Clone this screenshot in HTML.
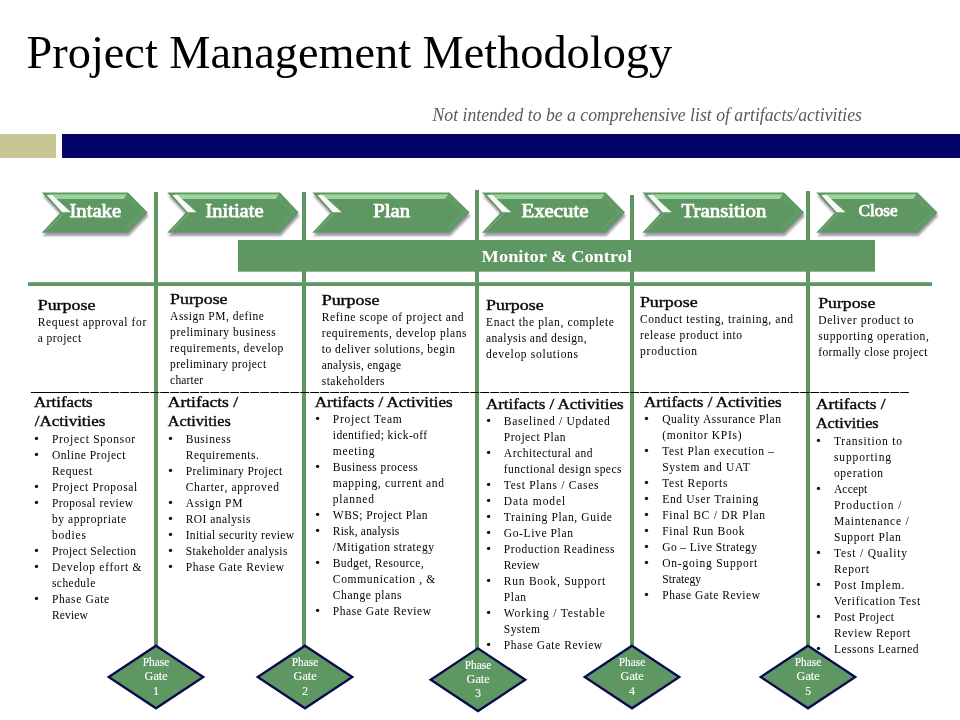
<!DOCTYPE html>
<html><head><meta charset="utf-8"><title>Project Management Methodology</title>
<style>
html,body{margin:0;padding:0;background:#fff;width:960px;height:720px;overflow:hidden}
svg{display:block;will-change:transform;font-family:"Liberation Serif",serif}
</style></head><body>
<svg width="960" height="720" viewBox="0 0 960 720">
<defs><filter id="blur" x="-10%" y="-30%" width="120%" height="160%"><feGaussianBlur stdDeviation="1.0"/></filter></defs>
<rect width="960" height="720" fill="#fff"/>
<text x="26.6" y="67.5" font-size="46" textLength="645.5" lengthAdjust="spacingAndGlyphs">Project Management Methodology</text>
<text x="432.5" y="120.7" font-size="19" fill="#5a5a5a" textLength="429.5" lengthAdjust="spacingAndGlyphs" font-style="italic">Not intended to be a comprehensive list of  artifacts/activities</text>
<rect x="0" y="134" width="56" height="24" fill="#c9c696"/>
<rect x="62" y="134" width="898" height="24" fill="#030369"/>
<rect x="154" y="192" width="4" height="458" fill="#5f9762"/>
<rect x="302" y="192" width="4" height="458" fill="#5f9762"/>
<rect x="475" y="190" width="4" height="460" fill="#5f9762"/>
<rect x="630" y="195" width="4" height="455" fill="#5f9762"/>
<rect x="806" y="191" width="4" height="459" fill="#5f9762"/>
<rect x="28" y="282.2" width="904" height="3.8" fill="#5f9762"/>
<rect x="238" y="240" width="637" height="31.7" fill="#5f9762"/>
<text x="481.6" y="261.8" font-size="17.5" font-weight="bold" fill="#ffffff" textLength="150.5" lengthAdjust="spacingAndGlyphs">Monitor &amp; Control</text>
<g>
<polygon points="42.5,195.7 128.8,195.7 148.5,215.79999999999998 128.8,236.0 42.5,236.0 61.3,215.79999999999998" fill="#7a6d86" opacity="0.7" filter="url(#blur)"/>
<polygon points="41.7,192.5 128,192.5 147.7,212.6 128,232.8 41.7,232.8 60.5,212.6" fill="#5f9762"/>
<polygon points="48.7,194.3 126.8,194.3 123.8,199.1 53.7,199.1" fill="#a3dea4" opacity="0.85"/>
<polygon points="126.8,194.3 145.2,212.6 126.5,231.3 123.8,228.8 139.7,212.6 123.8,199.1" fill="#6aa56d" opacity="0.35"/>
<polygon points="46.7,195.1 52.2,195.1 71.0,212.29999999999998 62.1,212.29999999999998" fill="#ffffff" opacity="0.95"/>
<line x1="63.0" y1="213.79999999999998" x2="45.7" y2="231.20000000000002" stroke="#cfe8cf" stroke-width="0.8" opacity="0.45"/>
<text x="69.4" y="216.7" font-size="18" fill="#ffffff" textLength="51.8" lengthAdjust="spacingAndGlyphs" stroke="#ffffff" stroke-width="0.75">Intake</text>
<polygon points="168.0,195.7 280.8,195.7 299.5,215.79999999999998 280.8,236.0 168.0,236.0 186.8,215.79999999999998" fill="#7a6d86" opacity="0.7" filter="url(#blur)"/>
<polygon points="167.2,192.5 280,192.5 298.7,212.6 280,232.8 167.2,232.8 186.0,212.6" fill="#5f9762"/>
<polygon points="174.2,194.3 278.8,194.3 275.8,199.1 179.2,199.1" fill="#a3dea4" opacity="0.85"/>
<polygon points="278.8,194.3 296.2,212.6 278.5,231.3 275.8,228.8 290.7,212.6 275.8,199.1" fill="#6aa56d" opacity="0.35"/>
<polygon points="172.2,195.1 177.7,195.1 196.5,212.29999999999998 187.6,212.29999999999998" fill="#ffffff" opacity="0.95"/>
<line x1="188.5" y1="213.79999999999998" x2="171.2" y2="231.20000000000002" stroke="#cfe8cf" stroke-width="0.8" opacity="0.45"/>
<text x="205.5" y="216.7" font-size="18" fill="#ffffff" textLength="58.0" lengthAdjust="spacingAndGlyphs" stroke="#ffffff" stroke-width="0.75">Initiate</text>
<polygon points="313.1,195.7 450.2,195.7 470.40000000000003,215.79999999999998 450.2,236.0 313.1,236.0 331.90000000000003,215.79999999999998" fill="#7a6d86" opacity="0.7" filter="url(#blur)"/>
<polygon points="312.3,192.5 449.4,192.5 469.6,212.6 449.4,232.8 312.3,232.8 331.1,212.6" fill="#5f9762"/>
<polygon points="319.3,194.3 448.2,194.3 445.2,199.1 324.3,199.1" fill="#a3dea4" opacity="0.85"/>
<polygon points="448.2,194.3 467.1,212.6 447.9,231.3 445.2,228.8 461.6,212.6 445.2,199.1" fill="#6aa56d" opacity="0.35"/>
<polygon points="317.3,195.1 322.8,195.1 341.6,212.29999999999998 332.70000000000005,212.29999999999998" fill="#ffffff" opacity="0.95"/>
<line x1="333.6" y1="213.79999999999998" x2="316.3" y2="231.20000000000002" stroke="#cfe8cf" stroke-width="0.8" opacity="0.45"/>
<text x="373.3" y="216.7" font-size="18" fill="#ffffff" textLength="36.7" lengthAdjust="spacingAndGlyphs" stroke="#ffffff" stroke-width="0.75">Plan</text>
<polygon points="482.7,195.7 606.4,195.7 625.8,215.79999999999998 606.4,236.0 482.7,236.0 501.5,215.79999999999998" fill="#7a6d86" opacity="0.7" filter="url(#blur)"/>
<polygon points="481.9,192.5 605.6,192.5 625,212.6 605.6,232.8 481.9,232.8 500.7,212.6" fill="#5f9762"/>
<polygon points="488.9,194.3 604.4,194.3 601.4,199.1 493.9,199.1" fill="#a3dea4" opacity="0.85"/>
<polygon points="604.4,194.3 622.5,212.6 604.1,231.3 601.4,228.8 617,212.6 601.4,199.1" fill="#6aa56d" opacity="0.35"/>
<polygon points="486.9,195.1 492.4,195.1 511.2,212.29999999999998 502.3,212.29999999999998" fill="#ffffff" opacity="0.95"/>
<line x1="503.2" y1="213.79999999999998" x2="485.9" y2="231.20000000000002" stroke="#cfe8cf" stroke-width="0.8" opacity="0.45"/>
<text x="521.5" y="216.7" font-size="18" fill="#ffffff" textLength="67.0" lengthAdjust="spacingAndGlyphs" stroke="#ffffff" stroke-width="0.75">Execute</text>
<polygon points="643.0999999999999,195.7 784.8,195.7 805.0,215.79999999999998 784.8,236.0 643.0999999999999,236.0 661.8999999999999,215.79999999999998" fill="#7a6d86" opacity="0.7" filter="url(#blur)"/>
<polygon points="642.3,192.5 784,192.5 804.2,212.6 784,232.8 642.3,232.8 661.0999999999999,212.6" fill="#5f9762"/>
<polygon points="649.3,194.3 782.8,194.3 779.8,199.1 654.3,199.1" fill="#a3dea4" opacity="0.85"/>
<polygon points="782.8,194.3 801.7,212.6 782.5,231.3 779.8,228.8 796.2,212.6 779.8,199.1" fill="#6aa56d" opacity="0.35"/>
<polygon points="647.3,195.1 652.8,195.1 671.5999999999999,212.29999999999998 662.6999999999999,212.29999999999998" fill="#ffffff" opacity="0.95"/>
<line x1="663.5999999999999" y1="213.79999999999998" x2="646.3" y2="231.20000000000002" stroke="#cfe8cf" stroke-width="0.8" opacity="0.45"/>
<text x="681.6" y="216.7" font-size="18" fill="#ffffff" textLength="84.8" lengthAdjust="spacingAndGlyphs" stroke="#ffffff" stroke-width="0.75">Transition</text>
<polygon points="817.0,195.7 918.3,195.7 938.3,215.79999999999998 918.3,236.0 817.0,236.0 835.8,215.79999999999998" fill="#7a6d86" opacity="0.7" filter="url(#blur)"/>
<polygon points="816.2,192.5 917.5,192.5 937.5,212.6 917.5,232.8 816.2,232.8 835.0,212.6" fill="#5f9762"/>
<polygon points="823.2,194.3 916.3,194.3 913.3,199.1 828.2,199.1" fill="#a3dea4" opacity="0.85"/>
<polygon points="916.3,194.3 935.0,212.6 916.0,231.3 913.3,228.8 929.5,212.6 913.3,199.1" fill="#6aa56d" opacity="0.35"/>
<polygon points="821.2,195.1 826.7,195.1 845.5,212.29999999999998 836.6,212.29999999999998" fill="#ffffff" opacity="0.95"/>
<line x1="837.5" y1="213.79999999999998" x2="820.2" y2="231.20000000000002" stroke="#cfe8cf" stroke-width="0.8" opacity="0.45"/>
<text x="858.4" y="215.8" font-size="16" fill="#ffffff" textLength="39.3" lengthAdjust="spacingAndGlyphs" stroke="#ffffff" stroke-width="0.75">Close</text>
</g>
<polygon points="156,645.7 203.3,677 156,708.3 108.7,677" fill="#5f9762" stroke="#0a0a4c" stroke-width="2.3" stroke-linejoin="miter"/>
<text x="142.8" y="666.2" font-size="11.5" fill="#ffffff" textLength="26.5" lengthAdjust="spacingAndGlyphs" stroke="#ffffff" stroke-width="0.15">Phase</text>
<text x="144.6" y="680" font-size="11.5" fill="#ffffff" textLength="23" lengthAdjust="spacingAndGlyphs" stroke="#ffffff" stroke-width="0.15">Gate</text>
<text x="156" y="694.6" font-size="11.5" fill="#ffffff" stroke="#ffffff" stroke-width="0.15" text-anchor="middle">1</text>
<polygon points="305,645.7 352.3,677 305,708.3 257.7,677" fill="#5f9762" stroke="#0a0a4c" stroke-width="2.3" stroke-linejoin="miter"/>
<text x="291.8" y="666.2" font-size="11.5" fill="#ffffff" textLength="26.5" lengthAdjust="spacingAndGlyphs" stroke="#ffffff" stroke-width="0.15">Phase</text>
<text x="293.6" y="680" font-size="11.5" fill="#ffffff" textLength="23" lengthAdjust="spacingAndGlyphs" stroke="#ffffff" stroke-width="0.15">Gate</text>
<text x="305" y="694.6" font-size="11.5" fill="#ffffff" stroke="#ffffff" stroke-width="0.15" text-anchor="middle">2</text>
<polygon points="478,648.4000000000001 525.3,679.7 478,711.0 430.7,679.7" fill="#5f9762" stroke="#0a0a4c" stroke-width="2.3" stroke-linejoin="miter"/>
<text x="464.8" y="668.9" font-size="11.5" fill="#ffffff" textLength="26.5" lengthAdjust="spacingAndGlyphs" stroke="#ffffff" stroke-width="0.15">Phase</text>
<text x="466.6" y="682.7" font-size="11.5" fill="#ffffff" textLength="23" lengthAdjust="spacingAndGlyphs" stroke="#ffffff" stroke-width="0.15">Gate</text>
<text x="478" y="697.3" font-size="11.5" fill="#ffffff" stroke="#ffffff" stroke-width="0.15" text-anchor="middle">3</text>
<polygon points="632,645.7 679.3,677 632,708.3 584.7,677" fill="#5f9762" stroke="#0a0a4c" stroke-width="2.3" stroke-linejoin="miter"/>
<text x="618.8" y="666.2" font-size="11.5" fill="#ffffff" textLength="26.5" lengthAdjust="spacingAndGlyphs" stroke="#ffffff" stroke-width="0.15">Phase</text>
<text x="620.6" y="680" font-size="11.5" fill="#ffffff" textLength="23" lengthAdjust="spacingAndGlyphs" stroke="#ffffff" stroke-width="0.15">Gate</text>
<text x="632" y="694.6" font-size="11.5" fill="#ffffff" stroke="#ffffff" stroke-width="0.15" text-anchor="middle">4</text>
<polygon points="808,645.7 855.3,677 808,708.3 760.7,677" fill="#5f9762" stroke="#0a0a4c" stroke-width="2.3" stroke-linejoin="miter"/>
<text x="794.8" y="666.2" font-size="11.5" fill="#ffffff" textLength="26.5" lengthAdjust="spacingAndGlyphs" stroke="#ffffff" stroke-width="0.15">Phase</text>
<text x="796.6" y="680" font-size="11.5" fill="#ffffff" textLength="23" lengthAdjust="spacingAndGlyphs" stroke="#ffffff" stroke-width="0.15">Gate</text>
<text x="808" y="694.6" font-size="11.5" fill="#ffffff" stroke="#ffffff" stroke-width="0.15" text-anchor="middle">5</text>
<line x1="30.9" y1="392.5" x2="79.2" y2="392.5" stroke="#000" stroke-width="1.15"/>
<line x1="80.2" y1="392.5" x2="908.8" y2="392.5" stroke="#000" stroke-width="1.15" stroke-dasharray="9 1"/>
<text x="37.7" y="310" font-size="14.5" textLength="57.7" lengthAdjust="spacingAndGlyphs" stroke="#141414" stroke-width="0.4">Purpose</text>
<text x="37.7" y="326" font-size="11.5" textLength="108.6" lengthAdjust="spacing">Request approval for</text>
<text x="37.7" y="342" font-size="11.5" textLength="43.4" lengthAdjust="spacing">a project</text>
<text x="170.1" y="304" font-size="14.5" textLength="57.4" lengthAdjust="spacingAndGlyphs" stroke="#141414" stroke-width="0.4">Purpose</text>
<text x="170.1" y="320" font-size="11.5" textLength="93.8" lengthAdjust="spacing">Assign PM, define</text>
<text x="170.1" y="336" font-size="11.5" textLength="105.6" lengthAdjust="spacing">preliminary business</text>
<text x="170.1" y="352" font-size="11.5" textLength="113.2" lengthAdjust="spacing">requirements, develop</text>
<text x="170.1" y="368" font-size="11.5" textLength="96.0" lengthAdjust="spacing">preliminary project</text>
<text x="170.1" y="384" font-size="11.5" textLength="33.0" lengthAdjust="spacing">charter</text>
<text x="321.7" y="305" font-size="14.5" textLength="57.8" lengthAdjust="spacingAndGlyphs" stroke="#141414" stroke-width="0.4">Purpose</text>
<text x="321.7" y="321" font-size="11.5" textLength="141.9" lengthAdjust="spacing">Refine scope of project and</text>
<text x="321.7" y="337" font-size="11.5" textLength="144.9" lengthAdjust="spacing">requirements, develop plans</text>
<text x="321.7" y="353" font-size="11.5" textLength="133.3" lengthAdjust="spacing">to deliver solutions, begin</text>
<text x="321.7" y="369" font-size="11.5" textLength="79.4" lengthAdjust="spacing">analysis, engage</text>
<text x="321.7" y="385" font-size="11.5" textLength="62.8" lengthAdjust="spacing">stakeholders</text>
<text x="486.0" y="310" font-size="14.5" textLength="57.6" lengthAdjust="spacingAndGlyphs" stroke="#141414" stroke-width="0.4">Purpose</text>
<text x="486.0" y="326" font-size="11.5" textLength="127.9" lengthAdjust="spacing">Enact the plan, complete</text>
<text x="486.0" y="342" font-size="11.5" textLength="100.6" lengthAdjust="spacing">analysis and design,</text>
<text x="486.0" y="358" font-size="11.5" textLength="92.0" lengthAdjust="spacing">develop solutions</text>
<text x="639.9" y="307" font-size="14.5" textLength="57.7" lengthAdjust="spacingAndGlyphs" stroke="#141414" stroke-width="0.4">Purpose</text>
<text x="639.9" y="323" font-size="11.5" textLength="153.1" lengthAdjust="spacing">Conduct testing, training, and</text>
<text x="639.9" y="339" font-size="11.5" textLength="102.2" lengthAdjust="spacing">release product into</text>
<text x="639.9" y="355" font-size="11.5" textLength="57.2" lengthAdjust="spacing">production</text>
<text x="818.2" y="308" font-size="14.5" textLength="57.1" lengthAdjust="spacingAndGlyphs" stroke="#141414" stroke-width="0.4">Purpose</text>
<text x="818.2" y="324" font-size="11.5" textLength="95.4" lengthAdjust="spacing">Deliver product to</text>
<text x="818.2" y="340" font-size="11.5" textLength="110.6" lengthAdjust="spacing">supporting operation,</text>
<text x="818.2" y="356" font-size="11.5" textLength="109.2" lengthAdjust="spacing">formally close project</text>
<text x="33.9" y="407" font-size="14.5" textLength="58.7" lengthAdjust="spacingAndGlyphs" stroke="#141414" stroke-width="0.4">Artifacts</text>
<text x="34.7" y="426" font-size="14.5" textLength="70.8" lengthAdjust="spacingAndGlyphs" stroke="#141414" stroke-width="0.4">/Activities</text>
<text x="51.9" y="443" font-size="11.5" textLength="83.3" lengthAdjust="spacing">Project Sponsor</text>
<text x="51.9" y="459" font-size="11.5" textLength="73.5" lengthAdjust="spacing">Online Project</text>
<text x="51.9" y="475" font-size="11.5" textLength="40.2" lengthAdjust="spacing">Request</text>
<text x="51.9" y="491" font-size="11.5" textLength="85.3" lengthAdjust="spacing">Project Proposal</text>
<text x="51.9" y="507" font-size="11.5" textLength="81.2" lengthAdjust="spacing">Proposal review</text>
<text x="51.9" y="523" font-size="11.5" textLength="74.2" lengthAdjust="spacing">by appropriate</text>
<text x="51.9" y="539" font-size="11.5" textLength="34.0" lengthAdjust="spacing">bodies</text>
<text x="51.9" y="555" font-size="11.5" textLength="84.0" lengthAdjust="spacing">Project Selection</text>
<text x="51.9" y="571" font-size="11.5" textLength="89.5" lengthAdjust="spacing">Develop effort &amp;</text>
<text x="51.9" y="587" font-size="11.5" textLength="43.4" lengthAdjust="spacing">schedule</text>
<text x="51.9" y="603" font-size="11.5" textLength="57.3" lengthAdjust="spacing">Phase Gate</text>
<text x="51.9" y="619" font-size="11.5" textLength="36.0" lengthAdjust="spacing">Review</text>
<circle cx="36.5" cy="438.4" r="1.7" fill="#141414"/>
<circle cx="36.5" cy="454.4" r="1.7" fill="#141414"/>
<circle cx="36.5" cy="486.4" r="1.7" fill="#141414"/>
<circle cx="36.5" cy="502.4" r="1.7" fill="#141414"/>
<circle cx="36.5" cy="550.4" r="1.7" fill="#141414"/>
<circle cx="36.5" cy="566.4" r="1.7" fill="#141414"/>
<circle cx="36.5" cy="598.4" r="1.7" fill="#141414"/>
<text x="167.8" y="407" font-size="14.5" textLength="70.3" lengthAdjust="spacingAndGlyphs" stroke="#141414" stroke-width="0.4">Artifacts /</text>
<text x="167.8" y="426" font-size="14.5" textLength="62.9" lengthAdjust="spacingAndGlyphs" stroke="#141414" stroke-width="0.4">Activities</text>
<text x="185.7" y="443" font-size="11.5" textLength="45.0" lengthAdjust="spacing">Business</text>
<text x="185.7" y="459" font-size="11.5" textLength="73.1" lengthAdjust="spacing">Requirements.</text>
<text x="185.7" y="475" font-size="11.5" textLength="96.6" lengthAdjust="spacing">Preliminary Project</text>
<text x="185.7" y="491" font-size="11.5" textLength="93.2" lengthAdjust="spacing">Charter, approved</text>
<text x="185.7" y="507" font-size="11.5" textLength="56.7" lengthAdjust="spacing">Assign PM</text>
<text x="185.7" y="523" font-size="11.5" textLength="64.7" lengthAdjust="spacing">ROI analysis</text>
<text x="185.7" y="539" font-size="11.5" textLength="108.3" lengthAdjust="spacing">Initial security review</text>
<text x="185.7" y="555" font-size="11.5" textLength="101.7" lengthAdjust="spacing">Stakeholder analysis</text>
<text x="185.7" y="571" font-size="11.5" textLength="98.4" lengthAdjust="spacing">Phase Gate Review</text>
<circle cx="170.5" cy="438.4" r="1.7" fill="#141414"/>
<circle cx="170.5" cy="470.4" r="1.7" fill="#141414"/>
<circle cx="170.5" cy="502.4" r="1.7" fill="#141414"/>
<circle cx="170.5" cy="518.4" r="1.7" fill="#141414"/>
<circle cx="170.5" cy="534.4" r="1.7" fill="#141414"/>
<circle cx="170.5" cy="550.4" r="1.7" fill="#141414"/>
<circle cx="170.5" cy="566.4" r="1.7" fill="#141414"/>
<text x="314.8" y="407" font-size="14.5" textLength="137.8" lengthAdjust="spacingAndGlyphs" stroke="#141414" stroke-width="0.4">Artifacts / Activities</text>
<text x="332.8" y="423" font-size="11.5" textLength="68.9" lengthAdjust="spacing">Project Team</text>
<text x="332.8" y="439" font-size="11.5" textLength="94.3" lengthAdjust="spacing">identified; kick-off</text>
<text x="332.8" y="455" font-size="11.5" textLength="41.7" lengthAdjust="spacing">meeting</text>
<text x="332.8" y="471" font-size="11.5" textLength="85.0" lengthAdjust="spacing">Business process</text>
<text x="332.8" y="487" font-size="11.5" textLength="111.1" lengthAdjust="spacing">mapping, current and</text>
<text x="332.8" y="503" font-size="11.5" textLength="41.2" lengthAdjust="spacing">planned</text>
<text x="332.8" y="519" font-size="11.5" textLength="94.8" lengthAdjust="spacing">WBS; Project Plan</text>
<text x="332.8" y="535" font-size="11.5" textLength="66.5" lengthAdjust="spacing">Risk, analysis</text>
<text x="332.8" y="551" font-size="11.5" textLength="101.2" lengthAdjust="spacing">/Mitigation strategy</text>
<text x="332.8" y="567" font-size="11.5" textLength="90.8" lengthAdjust="spacing">Budget, Resource,</text>
<text x="332.8" y="583" font-size="11.5" textLength="102.5" lengthAdjust="spacing">Communication , &amp;</text>
<text x="332.8" y="599" font-size="11.5" textLength="68.7" lengthAdjust="spacing">Change plans</text>
<text x="332.8" y="615" font-size="11.5" textLength="98.2" lengthAdjust="spacing">Phase Gate Review</text>
<circle cx="317.6" cy="418.4" r="1.7" fill="#141414"/>
<circle cx="317.6" cy="466.4" r="1.7" fill="#141414"/>
<circle cx="317.6" cy="514.4" r="1.7" fill="#141414"/>
<circle cx="317.6" cy="530.4" r="1.7" fill="#141414"/>
<circle cx="317.6" cy="562.4" r="1.7" fill="#141414"/>
<circle cx="317.6" cy="610.4" r="1.7" fill="#141414"/>
<text x="485.9" y="409" font-size="14.5" textLength="137.7" lengthAdjust="spacingAndGlyphs" stroke="#141414" stroke-width="0.4">Artifacts / Activities</text>
<text x="503.8" y="425" font-size="11.5" textLength="106.0" lengthAdjust="spacing">Baselined / Updated</text>
<text x="503.8" y="441" font-size="11.5" textLength="61.8" lengthAdjust="spacing">Project Plan</text>
<text x="503.8" y="457" font-size="11.5" textLength="88.8" lengthAdjust="spacing">Architectural and</text>
<text x="503.8" y="473" font-size="11.5" textLength="117.7" lengthAdjust="spacing">functional design specs</text>
<text x="503.8" y="489" font-size="11.5" textLength="94.7" lengthAdjust="spacing">Test Plans / Cases</text>
<text x="503.8" y="505" font-size="11.5" textLength="61.3" lengthAdjust="spacing">Data model</text>
<text x="503.8" y="521" font-size="11.5" textLength="108.1" lengthAdjust="spacing">Training Plan, Guide</text>
<text x="503.8" y="537" font-size="11.5" textLength="69.1" lengthAdjust="spacing">Go-Live Plan</text>
<text x="503.8" y="553" font-size="11.5" textLength="110.8" lengthAdjust="spacing">Production Readiness</text>
<text x="503.8" y="569" font-size="11.5" textLength="35.8" lengthAdjust="spacing">Review</text>
<text x="503.8" y="585" font-size="11.5" textLength="101.4" lengthAdjust="spacing">Run Book, Support</text>
<text x="503.8" y="601" font-size="11.5" textLength="22.3" lengthAdjust="spacing">Plan</text>
<text x="503.8" y="617" font-size="11.5" textLength="101.0" lengthAdjust="spacing">Working / Testable</text>
<text x="503.8" y="633" font-size="11.5" textLength="36.2" lengthAdjust="spacing">System</text>
<text x="503.8" y="649" font-size="11.5" textLength="98.3" lengthAdjust="spacing">Phase Gate Review</text>
<circle cx="488.6" cy="420.4" r="1.7" fill="#141414"/>
<circle cx="488.6" cy="452.4" r="1.7" fill="#141414"/>
<circle cx="488.6" cy="484.4" r="1.7" fill="#141414"/>
<circle cx="488.6" cy="500.4" r="1.7" fill="#141414"/>
<circle cx="488.6" cy="516.4" r="1.7" fill="#141414"/>
<circle cx="488.6" cy="532.4" r="1.7" fill="#141414"/>
<circle cx="488.6" cy="548.4" r="1.7" fill="#141414"/>
<circle cx="488.6" cy="580.4" r="1.7" fill="#141414"/>
<circle cx="488.6" cy="612.4" r="1.7" fill="#141414"/>
<circle cx="488.6" cy="644.4" r="1.7" fill="#141414"/>
<text x="644.1" y="407" font-size="14.5" textLength="137.6" lengthAdjust="spacingAndGlyphs" stroke="#141414" stroke-width="0.4">Artifacts / Activities</text>
<text x="662.2" y="423" font-size="11.5" textLength="118.7" lengthAdjust="spacing">Quality Assurance Plan</text>
<text x="662.2" y="439" font-size="11.5" textLength="79.4" lengthAdjust="spacing">(monitor KPIs)</text>
<text x="662.2" y="455" font-size="11.5" textLength="111.7" lengthAdjust="spacing">Test Plan execution –</text>
<text x="662.2" y="471" font-size="11.5" textLength="87.5" lengthAdjust="spacing">System and UAT</text>
<text x="662.2" y="487" font-size="11.5" textLength="65.3" lengthAdjust="spacing">Test Reports</text>
<text x="662.2" y="503" font-size="11.5" textLength="96.1" lengthAdjust="spacing">End User Training</text>
<text x="662.2" y="519" font-size="11.5" textLength="102.8" lengthAdjust="spacing">Final BC / DR Plan</text>
<text x="662.2" y="535" font-size="11.5" textLength="82.3" lengthAdjust="spacing">Final Run Book</text>
<text x="662.2" y="551" font-size="11.5" textLength="94.8" lengthAdjust="spacing">Go – Live Strategy</text>
<text x="662.2" y="567" font-size="11.5" textLength="95.1" lengthAdjust="spacing">On-going Support</text>
<text x="662.2" y="583" font-size="11.5" textLength="38.9" lengthAdjust="spacing">Strategy</text>
<text x="662.2" y="599" font-size="11.5" textLength="97.8" lengthAdjust="spacing">Phase Gate Review</text>
<circle cx="646.5" cy="418.4" r="1.7" fill="#141414"/>
<circle cx="646.5" cy="450.4" r="1.7" fill="#141414"/>
<circle cx="646.5" cy="482.4" r="1.7" fill="#141414"/>
<circle cx="646.5" cy="498.4" r="1.7" fill="#141414"/>
<circle cx="646.5" cy="514.4" r="1.7" fill="#141414"/>
<circle cx="646.5" cy="530.4" r="1.7" fill="#141414"/>
<circle cx="646.5" cy="546.4" r="1.7" fill="#141414"/>
<circle cx="646.5" cy="562.4" r="1.7" fill="#141414"/>
<circle cx="646.5" cy="594.4" r="1.7" fill="#141414"/>
<text x="815.9" y="409" font-size="14.5" textLength="69.7" lengthAdjust="spacingAndGlyphs" stroke="#141414" stroke-width="0.4">Artifacts /</text>
<text x="815.9" y="428" font-size="14.5" textLength="62.7" lengthAdjust="spacingAndGlyphs" stroke="#141414" stroke-width="0.4">Activities</text>
<text x="833.9" y="445" font-size="11.5" textLength="68.1" lengthAdjust="spacing">Transition to</text>
<text x="833.9" y="461" font-size="11.5" textLength="57.1" lengthAdjust="spacing">supporting</text>
<text x="833.9" y="477" font-size="11.5" textLength="49.2" lengthAdjust="spacing">operation</text>
<text x="833.9" y="493" font-size="11.5" textLength="33.4" lengthAdjust="spacing">Accept</text>
<text x="833.9" y="509" font-size="11.5" textLength="67.6" lengthAdjust="spacing">Production /</text>
<text x="833.9" y="525" font-size="11.5" textLength="74.7" lengthAdjust="spacing">Maintenance /</text>
<text x="833.9" y="541" font-size="11.5" textLength="66.9" lengthAdjust="spacing">Support Plan</text>
<text x="833.9" y="557" font-size="11.5" textLength="73.2" lengthAdjust="spacing">Test / Quality</text>
<text x="833.9" y="573" font-size="11.5" textLength="35.1" lengthAdjust="spacing">Report</text>
<text x="833.9" y="589" font-size="11.5" textLength="70.4" lengthAdjust="spacing">Post Implem.</text>
<text x="833.9" y="605" font-size="11.5" textLength="86.3" lengthAdjust="spacing">Verification Test</text>
<text x="833.9" y="621" font-size="11.5" textLength="60.1" lengthAdjust="spacing">Post Project</text>
<text x="833.9" y="637" font-size="11.5" textLength="76.3" lengthAdjust="spacing">Review Report</text>
<text x="833.9" y="653" font-size="11.5" textLength="84.7" lengthAdjust="spacing">Lessons Learned</text>
<circle cx="818.5" cy="440.4" r="1.7" fill="#141414"/>
<circle cx="818.5" cy="488.4" r="1.7" fill="#141414"/>
<circle cx="818.5" cy="552.4" r="1.7" fill="#141414"/>
<circle cx="818.5" cy="584.4" r="1.7" fill="#141414"/>
<circle cx="818.5" cy="616.4" r="1.7" fill="#141414"/>
<circle cx="818.5" cy="648.4" r="1.7" fill="#141414"/>
</svg>
</body></html>
